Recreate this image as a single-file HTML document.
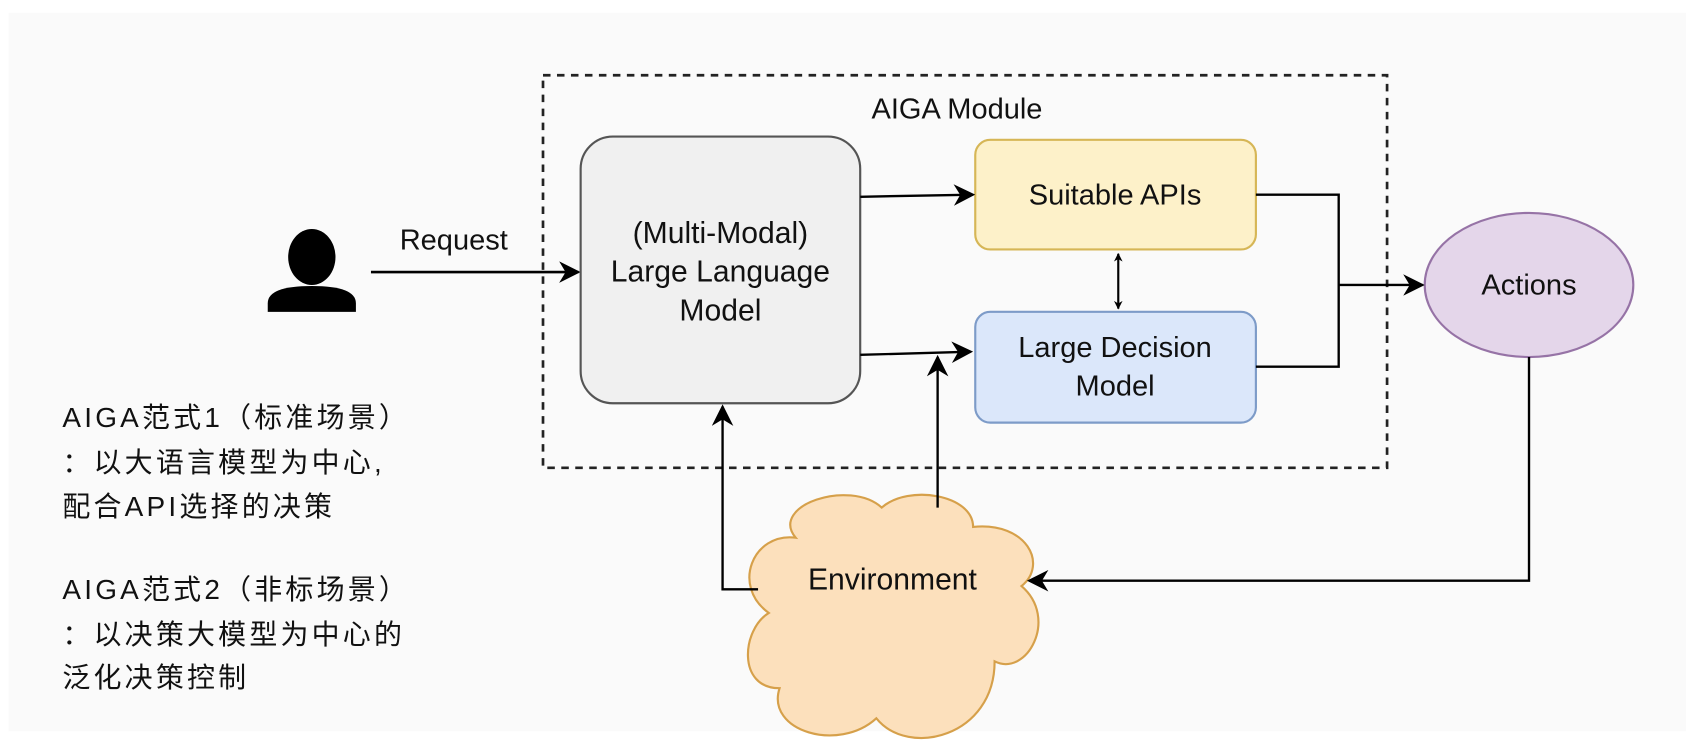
<!DOCTYPE html>
<html><head><meta charset="utf-8"><style>
html,body{margin:0;padding:0;background:#fff}
svg{display:block}
text{font-family:"Liberation Sans","Noto Sans CJK SC",sans-serif;fill:#111}
</style></head><body>
<svg width="1686" height="752" viewBox="0 0 1568 699.3" preserveAspectRatio="none" xmlns="http://www.w3.org/2000/svg">
<defs>
<marker id="a" viewBox="0 0 10 10" refX="9" refY="5" markerWidth="8" markerHeight="8" orient="auto-start-reverse" markerUnits="userSpaceOnUse">
<path d="M0,0 L10,5 L0,10 L3,5 z" fill="#000"/></marker>
<marker id="b" viewBox="0 0 10 10" refX="9" refY="5" markerWidth="20" markerHeight="20" orient="auto-start-reverse" markerUnits="userSpaceOnUse">
<path d="M0,0 L10,5 L0,10 L3,5 z" fill="#000"/></marker>
</defs>
<rect x="8" y="12" width="1560" height="668" fill="#fafafa"/>
<rect x="505" y="70" width="785" height="365" fill="none" stroke="#222" stroke-width="2.5" stroke-dasharray="7,6"/>
<text x="890" y="110" font-size="27" text-anchor="middle">AIGA Module</text>
<ellipse cx="290" cy="239" rx="22" ry="26" fill="#000"/>
<path d="M249,290 L249,282 Q249,266 290,266 Q331,266 331,282 L331,290 Z" fill="#000"/>
<text x="422" y="232" font-size="27" text-anchor="middle">Request</text>
<line x1="345" y1="253" x2="538" y2="253" stroke="#000" stroke-width="2.5" marker-end="url(#b)"/>
<rect x="540" y="127" width="260" height="248" rx="30" fill="#f0f0f0" stroke="#555" stroke-width="2"/>
<text x="670" y="226" font-size="28" text-anchor="middle">(Multi-Modal)</text>
<text x="670" y="262" font-size="28" text-anchor="middle">Large Language</text>
<text x="670" y="298" font-size="28" text-anchor="middle">Model</text>
<rect x="907" y="130" width="261" height="102" rx="14" fill="#fdf1c9" stroke="#d6b656" stroke-width="2"/>
<text x="1037" y="190" font-size="27" text-anchor="middle">Suitable APIs</text>
<rect x="907" y="290" width="261" height="103" rx="14" fill="#dbe7fa" stroke="#7d9bc8" stroke-width="2"/>
<text x="1037" y="332" font-size="27" text-anchor="middle">Large Decision</text>
<text x="1037" y="368" font-size="27" text-anchor="middle">Model</text>
<ellipse cx="1422" cy="265" rx="97" ry="67" fill="#e4d6ea" stroke="#9673a6" stroke-width="2"/>
<text x="1422" y="274" font-size="27" text-anchor="middle">Actions</text>
<path d="M740,500 C715,470 790,445 820,472 C845,450 905,460 905,490 C955,485 975,525 950,545 C985,575 955,630 925,615 C925,685 845,705 815,668 C780,700 712,680 725,640 C685,640 690,585 715,570 C680,545 700,495 740,500 Z" fill="#fce0bc" stroke="#d6a04a" stroke-width="2"/>
<text x="830" y="548" font-size="28" text-anchor="middle">Environment</text>
<line x1="800" y1="183" x2="905" y2="181" stroke="#000" stroke-width="2.2" marker-end="url(#b)"/>
<line x1="800" y1="330" x2="903" y2="327" stroke="#000" stroke-width="2.2" marker-end="url(#b)"/>
<line x1="1040" y1="236" x2="1040" y2="287" stroke="#000" stroke-width="2" marker-start="url(#a)" marker-end="url(#a)"/>
<polyline points="1168,181 1245,181 1245,341 1168,341" fill="none" stroke="#000" stroke-width="2.2"/>
<line x1="1245" y1="265" x2="1323" y2="265" stroke="#000" stroke-width="2.2" marker-end="url(#b)"/>
<polyline points="1422,332 1422,540 957,540" fill="none" stroke="#000" stroke-width="2.2" marker-end="url(#b)"/>
<polyline points="705,548 672,548 672,378" fill="none" stroke="#000" stroke-width="2.2" marker-end="url(#b)"/>
<line x1="872" y1="472" x2="872" y2="332" stroke="#000" stroke-width="2.2" marker-end="url(#b)"/>
<g font-size="26" letter-spacing="3">
<text x="58" y="397">AIGA范式1（标准场景）</text>
<text x="58" y="439">：以大语言模型为中心,</text>
<text x="58" y="480">配合API选择的决策</text>
<text x="58" y="557">AIGA范式2（非标场景）</text>
<text x="58" y="599">：以决策大模型为中心的</text>
<text x="58" y="639">泛化决策控制</text>
</g>
</svg>
</body></html>
